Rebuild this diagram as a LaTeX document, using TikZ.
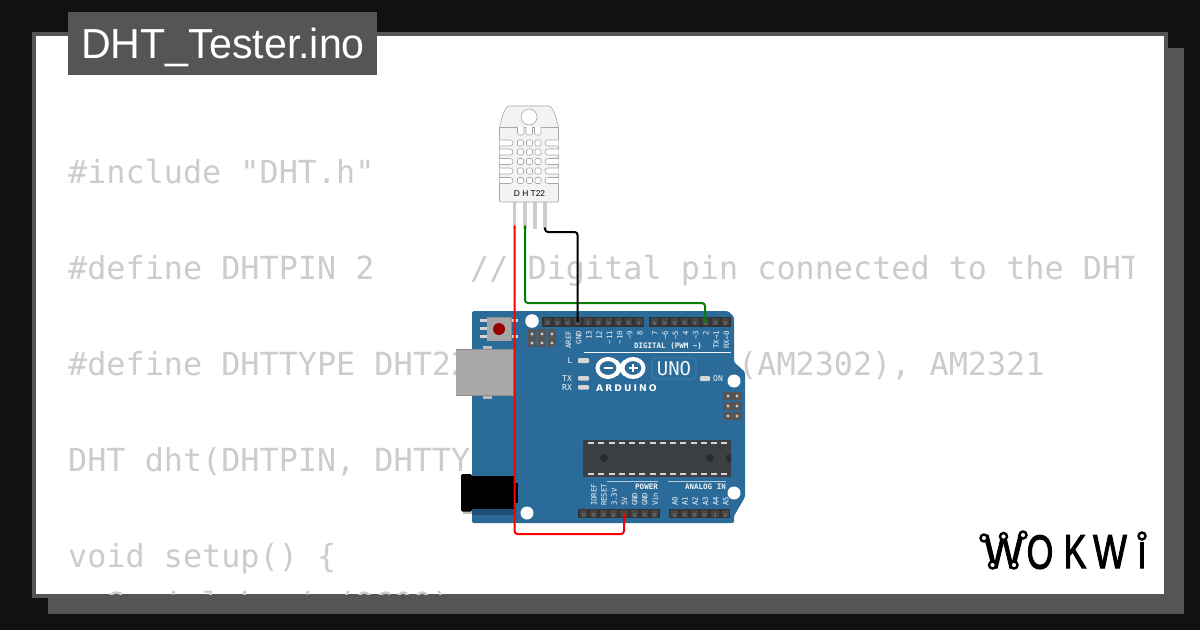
\documentclass[tikz,border=0pt]{standalone}
\usepackage{fontspec}
\usepackage{graphicx}
\setmainfont{Liberation Sans}
\newfontfamily\codefont{DejaVu Sans Mono}
\newfontfamily\pinfont{DejaVu Sans Mono}
\newfontfamily\logofont[FakeBold=2.6]{Liberation Sans}
\newfontfamily\ardfont[LetterSpace=22]{DejaVu Sans}
\definecolor{bgdark}{HTML}{111111}
\definecolor{framegray}{HTML}{555555}
\definecolor{codegray}{HTML}{CCCCCC}
\definecolor{board}{HTML}{2B6B9A}
\definecolor{boarddark}{HTML}{1F4F74}
\definecolor{hdr}{HTML}{333333}
\definecolor{hdrpin}{HTML}{454545}
\definecolor{hdrlow}{HTML}{5E5E5E}
\definecolor{chipc}{HTML}{3C4043}
\definecolor{chipdot}{HTML}{2A2D30}
\definecolor{usbc}{HTML}{A9A9A9}
\definecolor{usbe}{HTML}{8C8C8C}
\definecolor{dhtfill}{HTML}{F3F3F3}
\definecolor{dhtline}{HTML}{A8A8A8}
\definecolor{dhtpin}{HTML}{CDCDCD}
\definecolor{wgreen}{HTML}{008000}
\definecolor{unoline}{HTML}{4C84AE}
\definecolor{ledc}{HTML}{D5D5D5}
\definecolor{lab}{HTML}{F2F6F9}
\newcommand{\fsz}[1]{\fontsize{#1}{#1}\selectfont}
\newcommand{\tl}{\textasciitilde}
\tikzset{
  wire/.style={line width=2pt,rounded corners=3pt,line cap=round},
  codeline/.style={anchor=base west,inner sep=0pt,text=codegray,font=\codefont\fsz{31.8}},
  pinlab/.style={inner sep=0pt,text=lab,font=\pinfont\fsz{7.3},rotate=90},
  pinlabtop/.style={pinlab,anchor=east},
  pinlabbot/.style={pinlab,anchor=west},
  boardlab/.style={inner sep=0pt,text=lab,font=\pinfont\bfseries\fsz{7.5}},
  sidelab/.style={inner sep=0pt,text=lab,font=\pinfont\fsz{8}},
  led/.style={fill=ledc,rounded corners=1pt},
  logochar/.style={anchor=base,inner sep=0pt,text=black,font=\logofont\fsz{34}},
  logodot/.style={circle,draw=black,fill=white,line width=2.4pt,minimum size=7pt,inner sep=0pt},
  dhtstroke/.style={draw=dhtline,line width=.6pt},
}
\newcommand{\pinheader}[3]{% x0, y0, count
  \fill[hdr] (#1,#2) rectangle ++({#3*10.2},9.5);
  \foreach \i in {1,...,#3}{
    \pgfmathsetmacro{\px}{#1+5.1+(\i-1)*10.2}
    \fill[hdrpin] (\px-3.6,#2+1.4) rectangle (\px+3.6,#2+8);
    \fill[hdrlow] (\px-1.4,#2+4.4) rectangle (\px+1.4,#2+8);
  }
}
\begin{document}
\begin{tikzpicture}[x=1pt,y=-1pt]
\useasboundingbox (0,0) rectangle (1200,630);
\fill[bgdark] (0,0) rectangle (1200,630);
\fill[framegray] (48,48) rectangle (1184,614);
\fill[framegray] (32,32) rectangle (1168,598);
\fill[white] (36,36) rectangle (1164,594);
\begin{scope}
\clip (36,36) rectangle (1133,594);
\node[codeline] (c1) at (68,183.3) {\#include "DHT.h"};
\node[codeline] (c2) at (68,279.3) {\#define DHTPIN 2~~~~~// Digital pin connected to the DHT};
\node[codeline] (c3) at (68,375.3) {\#define DHTTYPE DHT22~~~// DHT 22~~(AM2302), AM2321};
\node[codeline] (c4) at (68,471.3) {DHT dht(DHTPIN, DHTTYPE);};
\node[codeline] (c5) at (68,567.3) {void setup() \{};
\node[codeline] (c6) at (68,615.3) {~~Serial.begin(9600);};
\end{scope}
\fill[framegray] (68,12) rectangle (377,75);
\node[anchor=base west,inner sep=0pt,text=white,font=\fsz{42}] (title) at (81,58) {\scalebox{.98}[1]{DHT\_Tester.ino}};

% ---- Arduino board
\fill[board,rounded corners=1.5pt] (472,311) -- (728,311) -- (734,317) -- (734,362) -- (745,372) -- (745,497) -- (734,516) -- (734,523) -- (472,523) -- cycle;
% USB
\fill[usbc!80!white] (483,346) rectangle (492,350);
\fill[usbc!80!white] (483,394) rectangle (492,399);
\fill[usbc] (456,349) rectangle (513,395);
\draw[usbe,line width=.8pt] (456,349) -- (513,349) -- (513,395) -- (456,395);
% jack
\fill[black!25] (463,508) rectangle (473,514);
\fill[boarddark] (472,505) rectangle (516,515);
\fill[black] (513,483) rectangle (518,503);
\fill[black] (472,476) rectangle (515,509);
\fill[black,rounded corners=1.5pt] (461,474) rectangle (472,511.5);
% reset
\fill[ledc] (480,319) rectangle (518,321.5);
\fill[ledc] (480,335) rectangle (518,337.5);
\fill[ledc] (480,327) rectangle (487,329.5);
\fill[black!35] (487,317) rectangle (512,341);
\fill[black!45] (487,317) rectangle (512,318);
\fill[black!45] (511,317) rectangle (512,341);
\fill[red!60!black] (499,329) circle (6);
% holes
\fill[white] (532,321) circle (6.8);
\fill[white] (734,381) circle (6.5);
\fill[white] (734,493) circle (6.5);
\fill[white] (527,513) circle (6.5);
% ICSP left
\foreach \xx in {528,538,548}{
  \fill[framegray,rounded corners=.8pt] (\xx,329) rectangle ++(8,18);
  \fill[black!20] (\xx+4,334) circle (1.6);
  \fill[black!20] (\xx+4,343) circle (1.6);
}
% ICSP right
\foreach \yy in {392,402,412}{
  \fill[framegray,rounded corners=.8pt] (723,\yy) rectangle ++(19,8);
  \fill[black!20] (728,\yy+4) circle (1.6);
  \fill[black!20] (737,\yy+4) circle (1.6);
}
% headers
\pinheader{542}{317}{10}
\pinheader{649}{317}{8}
\pinheader{578}{508.5}{8}
\pinheader{669}{508.5}{6}
% top labels
\node[pinlabtop] (lA) at (568.5,331) {AREF};
\node[pinlabtop] (lG) at (578.7,331) {GND};
\node[pinlabtop] at (589,331) {13};
\node[pinlabtop] at (599.2,331) {12};
\node[pinlabtop] at (609.4,331) {\tl11};
\node[pinlabtop] at (619.6,331) {\tl10};
\node[pinlabtop] at (629.8,331) {\tl9};
\node[pinlabtop] at (640,331) {8};
\node[pinlabtop] at (655,331) {7};
\node[pinlabtop] at (665.2,331) {\tl6};
\node[pinlabtop] at (675.4,331) {\tl5};
\node[pinlabtop] at (685.6,331) {4};
\node[pinlabtop] at (695.8,331) {\tl3};
\node[pinlabtop] at (706,331) {2};
\node[pinlabtop] at (716.2,331) {TX→1};
\node[pinlabtop] at (726.4,331) {RX←0};
\node[boardlab] (dig) at (668,346) {DIGITAL (PWM \tl)};
\fill[lab] (584,351.7) rectangle (731,352.5);
% bottom labels
\node[pinlabbot] at (594,506) {IOREF};
\node[pinlabbot] at (604,506) {RESET};
\node[pinlabbot] at (614.2,506) {3.3V};
\node[pinlabbot] at (624.4,506) {5V};
\node[pinlabbot] at (634.6,506) {GND};
\node[pinlabbot] at (644.8,506) {GND};
\node[pinlabbot] at (655,506) {Vin};
\node[pinlabbot] at (675,506) {A0};
\node[pinlabbot] at (685,506) {A1};
\node[pinlabbot] at (695.2,506) {A2};
\node[pinlabbot] at (705.4,506) {A3};
\node[pinlabbot] at (715.6,506) {A4};
\node[pinlabbot] at (725.8,506) {A5};
\node[boardlab,anchor=east] (pw) at (658,487) {POWER};
\node[boardlab,anchor=east] (an) at (726,487) {ANALOG IN};
\fill[lab!70!board] (607,481) rectangle (658,481.8);
\fill[lab!70!board] (668,481) rectangle (726,481.8);
% chip
\fill[chipc,rounded corners=1pt] (583,440) rectangle (731,477);
\foreach \i in {0,...,13}{
  \fill[ledc] (588+\i*10.25,442) rectangle ++(6.2,2);
  \fill[ledc] (588+\i*10.25,472.5) rectangle ++(6.2,2);
}
\fill[chipdot] (604,458) circle (4);
\fill[chipdot] (710,458) circle (4);
\begin{scope}
\clip (583,440) rectangle (731,477);
\fill[chipdot] (729.5,458) circle (4);
\end{scope}
% logo
\draw[white,line width=4pt] (608,368) ellipse (10.5 and 9);
\draw[white,line width=4pt] (633,368) ellipse (10.5 and 9);
\draw[white,line width=4pt] (616,361.5) .. controls (619.5,365) and (621.5,371) .. (625,374.5);
\draw[white,line width=4pt] (625,361.5) .. controls (621.5,365) and (619.5,371) .. (616,374.5);
\fill[white] (604,367) rectangle (612.5,369.2);
\fill[white] (629,367) rectangle (637.5,369.2);
\fill[white] (632.2,363.8) rectangle (634.4,372.4);
\node[anchor=west,inner sep=0pt,text=white,font=\ardfont\bfseries\fsz{9.2}] (ard) at (596,388) {ARDUINO};
\draw[unoline,line width=.7pt,rounded corners=3pt] (652,358) rectangle (696,379);
\node[inner sep=0pt,text=lab,font=\pinfont\fsz{19}] (uno) at (674,368.5) {UNO};
% LEDs
\fill[led] (578,358) rectangle (589,363);
\fill[led] (578,376) rectangle (589,380.5);
\fill[led] (578,385) rectangle (589,389.5);
\fill[led] (700,376) rectangle (710,381);
\node[sidelab] at (570,360.5) {L};
\node[sidelab] at (567,378.5) {TX};
\node[sidelab] at (567,387.5) {RX};
\node[sidelab] at (718,378.5) {ON};

% ---- DHT22
\foreach \xx in {514.5,525,535,545}{\fill[dhtpin] (\xx-1.6,202) rectangle (\xx+1.6,229);}
\path[fill=dhtfill,dhtstroke,rounded corners=1pt] (499.5,202) -- (499.5,127) .. controls (502,117) and (504,110) .. (508,106) -- (550,106) .. controls (554,110) and (556,117) .. (558.5,127) -- (558.5,202) -- cycle;
\draw[dhtstroke] (499.5,127) -- (558.5,127);
\draw[dhtstroke,fill=white] (529,117) circle (8);
\foreach \xx in {517.5,526,534.5}{
  \draw[dhtstroke,fill=white,rounded corners=1.5pt] (\xx,127) -- (\xx,135) -- (\xx+6.5,135) -- (\xx+6.5,127);
}
\foreach \yy in {140,149,158.5,168,177.5}{
  \draw[dhtstroke,fill=white] (499.5,\yy) -- (510,\yy) .. controls (514,\yy) and (514,\yy+6) .. (510,\yy+6) -- (499.5,\yy+6);
  \draw[dhtstroke,fill=white] (558.5,\yy) -- (548,\yy) .. controls (544,\yy) and (544,\yy+6) .. (548,\yy+6) -- (558.5,\yy+6);
  \foreach \xx in {517.5,526.5,535}{
    \draw[dhtstroke,fill=white,rounded corners=1.2pt] (\xx,\yy) rectangle ++(6,6);
  }
}
\node[inner sep=0pt,text=black,font=\fsz{8.4}] (dhtname) at (529.5,194) {D H T22};

% ---- connectors
\coordinate (dhtvcc) at (514.5,226);
\coordinate (dhtsda) at (525,226);
\coordinate (dhtgnd) at (545,228);
\coordinate (pin5v) at (624,514);
\coordinate (pingnd) at (577.6,322);
\coordinate (pind2) at (705,322);
\coordinate (redrun) at (570,534);
\coordinate (greenrun) at (600,303);
\coordinate (blackrun) at (560,232);
\draw[wire,red] (dhtvcc) -- (dhtvcc |- redrun) -- (pin5v |- redrun) -- (pin5v);
\draw[wire,wgreen] (dhtsda) -- (dhtsda |- greenrun) -- (pind2 |- greenrun) -- (pind2);
\draw[wire,black] (dhtgnd) -- (dhtgnd |- blackrun) -- (pingnd |- blackrun) -- (pingnd);

% ---- wokwi logo
\node[logochar] (lw1) at (1003.5,568) {\scalebox{1.22}[1.4]{W}};
\node[logochar] (lo) at (1040,568.5) {\scalebox{1}[1.4]{O}};
\node[logochar] (lk) at (1075,568) {\scalebox{1}[1.4]{K}};
\node[logochar] (lw2) at (1110,568) {\scalebox{1.05}[1.4]{W}};
\node[logochar] (li) at (1142,568) {\scalebox{1}[1.4]{\i}};
\foreach \p in {(984,538),(1003.5,536.5),(1023,535),(992.5,565),(1014,565),(1142,536)}{
  \node[logodot] at \p {};
}
\end{tikzpicture}
\end{document}
